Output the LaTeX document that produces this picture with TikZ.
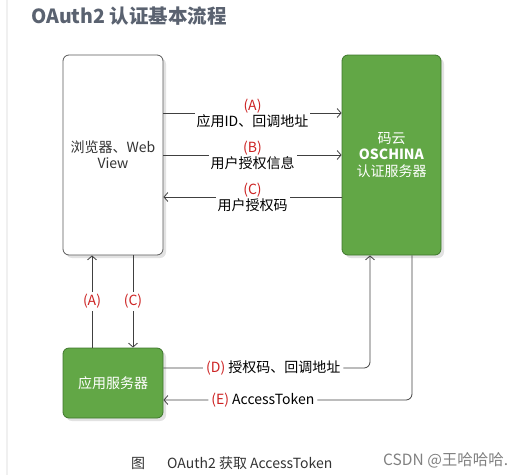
\documentclass[tikz,border=0pt]{standalone}
\usepackage{fontspec}
\setmainfont{Noto Sans CJK SC}
\usetikzlibrary{arrows.meta,shadows,positioning}
\definecolor{srvgreen}{RGB}{98,167,70}
\definecolor{srvline}{RGB}{62,118,44}
\definecolor{titlegray}{RGB}{90,98,112}
\definecolor{lblred}{RGB}{205,35,35}

\begin{document}
\begin{tikzpicture}[x=1pt,y=-1pt,
    every node/.style={font=\fontsize{14}{16}\selectfont},
    box/.style={draw=gray!70!black,line width=0.8pt,rounded corners=6,minimum width=100,
      drop shadow={shadow xshift=3pt,shadow yshift=-3pt,fill=gray!45}},
    flow/.style={draw=black!75,line width=0.8pt,-{Straight Barb[length=4pt,width=9pt]}},
    lbl/.style={fill=white,inner xsep=2pt,inner ysep=0pt,align=center},
    tag/.style={text=lblred}]
  \useasboundingbox (0,0) rectangle (525,475);
  \draw[gray!12,line width=1.5pt] (7,0) -- (7,475);
  \node[anchor=west,inner sep=0pt,text=titlegray,font=\fontsize{19.5}{20}\selectfont\bfseries] (title) at (31,16) {OAuth2 认证基本流程};
  \draw
    (113,155) node[box,fill=white,text=black!80,minimum height=200,align=center] (web){浏览器、Web\\View}
    (391.5,155) node[box,fill=srvgreen,draw=srvline,text=white,minimum width=99,minimum height=200,align=center,font=\fontsize{14}{16.5}\selectfont] (oschina){码云\\\textbf{OSCHINA}\\认证服务器}
    (113,383) node[box,fill=srvgreen,draw=srvline,text=white,minimum height=70] (app){应用服务器};
  \begin{scope}[flow]
    \draw ([yshift=42]web.east) -- node[lbl] {\textcolor{lblred}{(A)}\\应用ID、回调地址} ([yshift=42]oschina.west);
    \draw (web.east) -- node[lbl] {\textcolor{lblred}{(B)}\\用户授权信息} (oschina.west);
    \draw ([yshift=-42]oschina.west) -- node[lbl] {\textcolor{lblred}{(C)}\\用户授权码} ([yshift=-42]web.east);
    \draw ([xshift=-21]app.north) -- node[lbl,tag,inner ysep=2pt] {(A)} ([xshift=-21]web.south);
    \draw ([xshift=20]web.south) -- node[lbl,tag,inner ysep=2pt] {(C)} ([xshift=20]app.north);
    \draw[rounded corners=6] ([yshift=15]app.east) -| node[lbl,pos=0.266,inner xsep=3pt] {\textcolor{lblred}{(D)} 授权码、回调地址} ([xshift=-21.5]oschina.south);
    \draw[rounded corners=6] ([xshift=20.5]oschina.south) |- node[lbl,pos=0.8,inner xsep=3pt] {\textcolor{lblred}{(E)} AccessToken} ([yshift=-17]app.east);
  \end{scope}
  \node[anchor=west,inner sep=0pt,text=black!80] (fig) at (131,463) {图};
  \node[anchor=west,inner sep=0pt,text=black!80] (cap) at (167,463) {OAuth2 获取 AccessToken};
  \node[anchor=west,inner sep=0pt,text=gray,font=\fontsize{15.5}{16}\selectfont] (mark) at (383,460) {CSDN @王哈哈哈.};
\end{tikzpicture}
\end{document}
